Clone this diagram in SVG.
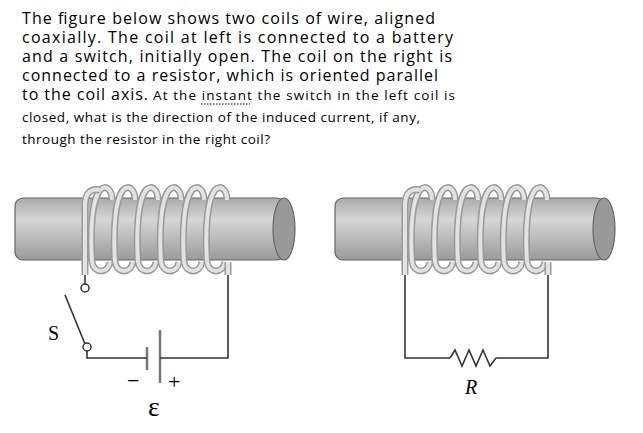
<svg xmlns="http://www.w3.org/2000/svg" width="643" height="433" viewBox="0 0 643 433">
<defs>
<linearGradient id="cyl" x1="0" y1="0" x2="0" y2="1"><stop offset="0" stop-color="#aaa"/><stop offset="0.35" stop-color="#d6d6d6"/><stop offset="1" stop-color="#9a9a9a"/></linearGradient>
<g id="turn"><path d="M-8 262 C-10 230 -8 200 0 190 C6 184 12 190 12 200 M-8 262 C-6 274 8 274 10 262" fill="none" stroke="#999" stroke-width="7"/><path d="M-8 262 C-10 230 -8 200 0 190 C6 184 12 190 12 200 M-8 262 C-6 274 8 274 10 262" fill="none" stroke="#e2e2e2" stroke-width="4"/></g>
<g id="coil">
<rect x="15" y="198" width="270" height="62" rx="8" fill="url(#cyl)" stroke="#666" stroke-width="1.2"/>
<ellipse cx="284" cy="229" rx="11" ry="31" fill="#999" stroke="#666" stroke-width="1.2"/>
<use href="#turn" x="100"/><use href="#turn" x="123"/><use href="#turn" x="146"/><use href="#turn" x="169"/><use href="#turn" x="192"/><use href="#turn" x="215"/>
<path d="M85 275 V205 C85 192 92 188 100 190" stroke="#999" stroke-width="7" fill="none"/>
<path d="M85 275 V205 C85 192 92 188 100 190" stroke="#e2e2e2" stroke-width="4" fill="none"/>
<path d="M228 262 V275" stroke="#999" stroke-width="7" fill="none"/>
<path d="M228 262 V275" stroke="#e2e2e2" stroke-width="4" fill="none"/>
</g>
</defs>
<style>.t{font-family:"Open Sans","Liberation Sans",sans-serif;fill:#000}.w{fill:none;stroke:#333;stroke-width:1.6}.s{font-family:"Liberation Serif",serif}</style>
<g id="text" class="t">
<text x="22" y="24" font-size="16" textLength="413" lengthAdjust="spacing">The figure below shows two coils of wire, aligned</text>
<text x="22" y="43" font-size="16" textLength="431" lengthAdjust="spacing">coaxially. The coil at left is connected to a battery</text>
<text x="22" y="62" font-size="16" textLength="430" lengthAdjust="spacing">and a switch, initially open. The coil on the right is</text>
<text x="22" y="81" font-size="16" textLength="416" lengthAdjust="spacing">connected to a resistor, which is oriented parallel</text>
<text x="22" y="100" font-size="16" textLength="126" lengthAdjust="spacing">to the coil axis.</text>
<text x="153" y="100" font-size="13.5" textLength="302" lengthAdjust="spacing">At the instant the switch in the left coil is</text>
<text x="22" y="122" font-size="13.5" textLength="398" lengthAdjust="spacing">closed, what is the direction of the induced current, if any,</text>
<text x="22" y="144" font-size="13.5" textLength="248" lengthAdjust="spacing">through the resistor in the right coil?</text>
<line x1="201" y1="104" x2="250" y2="104" stroke="#000" stroke-dasharray="1.5,1.5"/>
</g>
<g id="left-coil"><use href="#coil"/></g>
<g id="right-coil"><use href="#coil" x="320"/></g>
<g id="switch"><line x1="85" y1="275" x2="85" y2="284" class="w"/><circle cx="85" cy="288" r="4" fill="#fff" stroke="#333" stroke-width="1.5"/><line x1="65" y1="295" x2="85" y2="344" class="w"/><circle cx="87" cy="347" r="4" fill="#fff" stroke="#333" stroke-width="1.5"/><text x="48" y="340" font-size="20" class="s">S</text></g>
<g id="battery"><line x1="147" y1="347" x2="147" y2="370" stroke="#777" stroke-width="2.5"/><line x1="160" y1="330" x2="160" y2="383" stroke="#777" stroke-width="2.5"/><text x="127" y="388" font-size="22" class="s">−</text><text x="168" y="389" font-size="22" class="s">+</text><text x="148" y="416" font-size="28" class="s">ε</text></g>
<g id="resistor"><path d="M450 358 L455 350 L462 366 L469 350 L476 366 L483 350 L490 366 L496 358" class="w"/><text x="465" y="394" font-size="20" class="s" font-style="italic">R</text></g>
<g id="connectors">
<path d="M87 351 V358 H147 M160 358 H228 V275" class="w"/>
<path d="M405 275 V358 H450 M496 358 H548 V275" class="w"/>
</g>
</svg>
